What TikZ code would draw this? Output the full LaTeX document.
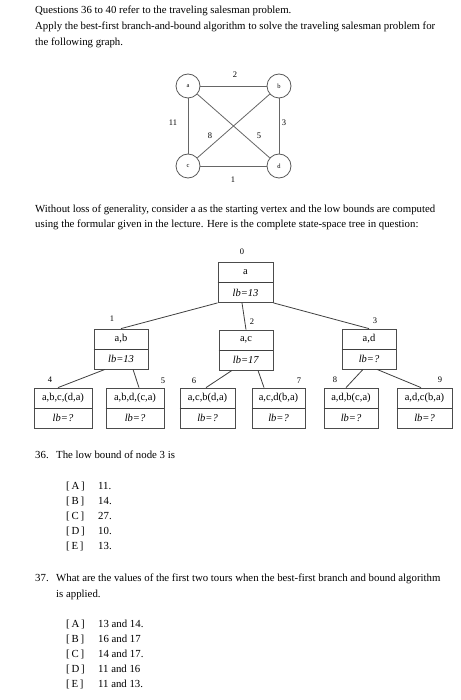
\documentclass[tikz,border=0pt]{standalone}
\usepackage{fontspec}
\setmainfont{Liberation Serif}
\usetikzlibrary{calc}
\begin{document}
\begin{tikzpicture}[x=1pt,y=-1pt,
  txt/.style={anchor=base west, inner sep=0pt, font=\fontsize{10.8}{13}\selectfont},
  vtx/.style={circle, draw=black!65, line width=0.8pt, minimum size=24pt, inner sep=0pt, font=\fontsize{6.5}{7}\selectfont},
  gedge/.style={draw=black!60, line width=0.8pt},
  elab/.style={inner sep=0pt, font=\fontsize{8.5}{9}\selectfont},
  tbox/.style={draw=black!70, line width=0.8pt, minimum height=40pt, inner sep=0pt},
  tcell/.style={inner sep=0pt, font=\fontsize{10.5}{12}\selectfont},
  tnum/.style={inner sep=0pt, font=\fontsize{8.5}{9}\selectfont},
  tedge/.style={draw=black!75, line width=0.8pt}
]
\useasboundingbox[fill=white] (0,0) rectangle (460,700);

% header text
\node[txt] (t1) at (35,14) {Questions 36 to 40 refer to the traveling salesman problem.};
\node[txt] (t2) at (35,30) {\makebox[400pt][s]{Apply the best-first branch-and-bound algorithm to solve the traveling salesman problem for}};
\node[txt] (t3) at (35,45.5) {the following graph.};

% graph
\node[vtx] (a) at (188,86) {a};
\node[vtx] (b) at (279,86) {b};
\node[vtx] (c) at (188,166) {c};
\node[vtx] (d) at (279,166) {d};
\draw[gedge] (a) -- (b);
\draw[gedge] (a) -- (c);
\draw[gedge] (b) -- (d);
\draw[gedge] (c) -- (d);
\draw[gedge] (a) -- (d);
\draw[gedge] (b) -- (c);
\node[elab] (l2) at (235,75) {2};
\node[elab] (l11) at (173,123) {11};
\node[elab] (l3) at (284,123) {3};
\node[elab] (l8) at (210,136) {8};
\node[elab] (l5) at (259,136) {5};
\node[elab] (l1) at (233,180) {1};

% paragraph 2
\node[txt] (p1) at (35,212.5) {\makebox[400pt][s]{Without loss of generality, consider a as the starting vertex and the low bounds are computed}};
\node[txt] (p2) at (35,227.5) {using the formular given in the lecture. Here is the complete state-space tree in question:};

% tree boxes
\node[tbox, minimum width=55pt] (r) at (245.5,282.5) {};
\node[tbox, minimum width=54pt] (n1) at (121,349) {};
\node[tbox, minimum width=54pt] (n2) at (246,350) {};
\node[tbox, minimum width=54pt] (n3) at (369,349) {};
\node[tbox, minimum width=58pt] (n4) at (63,408) {};
\node[tbox, minimum width=58pt] (n5) at (135,408) {};
\node[tbox, minimum width=55pt] (n6) at (207.5,408) {};
\node[tbox, minimum width=53pt] (n7) at (278.5,408) {};
\node[tbox, minimum width=54pt] (n8) at (351,408) {};
\node[tbox, minimum width=55pt] (n9) at (424.5,408) {};
\foreach \n in {r,n1,n2,n3,n4,n5,n6,n7,n8,n9}{
  \draw[tedge] (\n.west) -- (\n.east);
}
% cell texts
\node[tcell] (rt) at ($(r.center)+(0,-10)$) {a};
\node[tcell] (rb) at ($(r.center)+(0,10)$) {\textit{lb=13}};
\node[tcell] (n1t) at ($(n1.center)+(0,-10)$) {a,b};
\node[tcell] (n1b) at ($(n1.center)+(0,10)$) {\textit{lb=13}};
\node[tcell] (n2t) at ($(n2.center)+(0,-10)$) {a,c};
\node[tcell] (n2b) at ($(n2.center)+(0,10)$) {\textit{lb=17}};
\node[tcell] (n3t) at ($(n3.center)+(0,-10)$) {a,d};
\node[tcell] (n3b) at ($(n3.center)+(0,10)$) {\textit{lb=?}};
\node[tcell] (n4t) at ($(n4.center)+(0,-10)$) {a,b,c,(d,a)};
\node[tcell] (n4b) at ($(n4.center)+(0,10)$) {\textit{lb=?}};
\node[tcell] (n5t) at ($(n5.center)+(0,-10)$) {a,b,d,(c,a)};
\node[tcell] (n5b) at ($(n5.center)+(0,10)$) {\textit{lb=?}};
\node[tcell] (n6t) at ($(n6.center)+(0,-10)$) {a,c,b(d,a)};
\node[tcell] (n6b) at ($(n6.center)+(0,10)$) {\textit{lb=?}};
\node[tcell] (n7t) at ($(n7.center)+(0,-10)$) {a,c,d(b,a)};
\node[tcell] (n7b) at ($(n7.center)+(0,10)$) {\textit{lb=?}};
\node[tcell] (n8t) at ($(n8.center)+(0,-10)$) {a,d,b(c,a)};
\node[tcell] (n8b) at ($(n8.center)+(0,10)$) {\textit{lb=?}};
\node[tcell] (n9t) at ($(n9.center)+(0,-10)$) {a,d,c(b,a)};
\node[tcell] (n9b) at ($(n9.center)+(0,10)$) {\textit{lb=?}};

% tree numbers
\node[tnum] (k0) at (242,252) {0};
\node[tnum] (k1) at (112,319) {1};
\node[tnum] (k2) at (252,322) {2};
\node[tnum] (k3) at (375,321) {3};
\node[tnum] (k4) at (50,380) {4};
\node[tnum] (k5) at (163,381) {5};
\node[tnum] (k6) at (194,381) {6};
\node[tnum] (k7) at (299,381) {7};
\node[tnum] (k8) at (335,380) {8};
\node[tnum] (k9) at (440,380) {9};

% tree connectors
\draw[tedge] (r.south west) -- (n1.north);
\draw[tedge] ([xshift=-3.5pt]r.south) -- (n2.north);
\draw[tedge] (r.south east) -- (n3.north);
\draw[tedge] ([xshift=-16pt]n1.south) -- ([xshift=-5pt]n4.north);
\draw[tedge] ([xshift=12pt]n1.south) -- ([xshift=4pt]n5.north);
\draw[tedge] ([xshift=-14pt]n2.south) -- ([xshift=-1.5pt]n6.north);
\draw[tedge] ([xshift=12pt]n2.south) -- ([xshift=-14.5pt]n7.north);
\draw[tedge] ([xshift=-6pt]n3.south) -- ([xshift=-5pt]n8.north);
\draw[tedge] ([xshift=8pt]n3.south) -- ([xshift=-3.5pt]n9.north);

% question 36
\node[txt] (q36n) at (35,458) {36.};
\node[txt] (q36) at (56,458) {The low bound of node 3 is};
\node[txt] (o1a) at (66,489) {[\,A\,]};
\node[txt] (o1av) at (98,489) {11.};
\node[txt] (o1b) at (66,504) {[\,B\,]};
\node[txt] (o1bv) at (98,504) {14.};
\node[txt] (o1c) at (66,519) {[\,C\,]};
\node[txt] (o1cv) at (98,519) {27.};
\node[txt] (o1d) at (66,534) {[\,D\,]};
\node[txt] (o1dv) at (98,534) {10.};
\node[txt] (o1e) at (66,549) {[\,E\,]};
\node[txt] (o1ev) at (98,549) {13.};

% question 37
\node[txt] (q37n) at (35,581) {37.};
\node[txt] (q37) at (56,581) {What are the values of the first two tours when the best-first branch and bound algorithm};
\node[txt] (q37b) at (56,597) {is applied.};
\node[txt] (o2a) at (66,627) {[\,A\,]};
\node[txt] (o2av) at (98,627) {13 and 14.};
\node[txt] (o2b) at (66,642) {[\,B\,]};
\node[txt] (o2bv) at (98,642) {16 and 17};
\node[txt] (o2c) at (66,657) {[\,C\,]};
\node[txt] (o2cv) at (98,657) {14 and 17.};
\node[txt] (o2d) at (66,672) {[\,D\,]};
\node[txt] (o2dv) at (98,672) {11 and 16};
\node[txt] (o2e) at (66,687) {[\,E\,]};
\node[txt] (o2ev) at (98,687) {11 and 13.};
\end{tikzpicture}
\end{document}
